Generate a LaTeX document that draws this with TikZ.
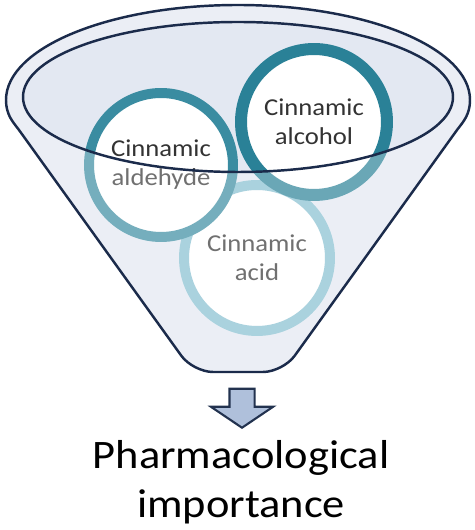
\documentclass[tikz,border=0pt]{standalone}
\usepackage{fontspec}
\setmainfont{Carlito}[FakeStretch=1.1]
\usepackage{tikz}
\usetikzlibrary{shapes.geometric, shapes.arrows, positioning}
\definecolor{funnelfill}{HTML}{E3E8F2}
\definecolor{rimline}{HTML}{1B2B4B}
\definecolor{alcoholring}{HTML}{2A8197}
\definecolor{aldehydering}{HTML}{3A8CA1}
\definecolor{acidring}{HTML}{86BFD0}
\definecolor{labeltext}{HTML}{333333}
\definecolor{arrowfill}{HTML}{AFC0DB}
\definecolor{arrowline}{HTML}{22324F}
% outline of the funnel (units are pixels of the reference)
\newcommand{\funnelrim}{(6,430) arc[start angle=180, end angle=0, x radius=232, y radius=95]
  .. controls (470,415) and (463,408) .. (457,400)
  [rounded corners=0.4cm] -- (283,158) -- (193,158) [sharp corners] -- (19,400)
  .. controls (13,408) and (6,415) .. (6,430) -- cycle}

\begin{document}
\begin{tikzpicture}[x=0.02cm, y=0.02cm,
  rim/.style={draw=rimline, line width=1.4pt},
  ring/.style={circle, fill=white, line width=0.2cm, align=center, inner sep=0pt,
    text=labeltext, font=\fontsize{13.8}{16.5}\selectfont}]
  \useasboundingbox (0,0) rectangle (474,530);
  \fill[funnelfill] \funnelrim;
  % the three compounds
  \node[ring, draw=acidring, minimum size=2.92cm] (acid) at (257,272) {Cinnamic\\acid};
  \node[ring, draw=aldehydering, minimum size=2.88cm] (aldehyde) at (161,365) {Cinnamic\\aldehyde};
  \node[ring, draw=alcoholring, line width=0.24cm, minimum size=2.92cm] (alcohol) at (314,408) {Cinnamic\\alcohol};
  % body of the funnel seen through
  \fill[white, opacity=0.3, even odd rule] \funnelrim (238,433) ellipse [x radius=215, y radius=75];
  \draw[rim] \funnelrim;
  \draw[rim] (238,433) ellipse [x radius=215, y radius=75];
  % result
  \node[single arrow, draw=arrowline, fill=arrowfill, line width=1.2pt, rotate=-90,
    minimum height=0.78cm, single arrow head extend=0.37cm, single arrow tip angle=112,
    inner sep=0.23cm] (down) at (242,126) {};
  \node[align=center, font=\fontsize{23}{27.9}\selectfont] (importance) at (241,48)
    {Pharmacological\\importance};
\end{tikzpicture}
\end{document}
